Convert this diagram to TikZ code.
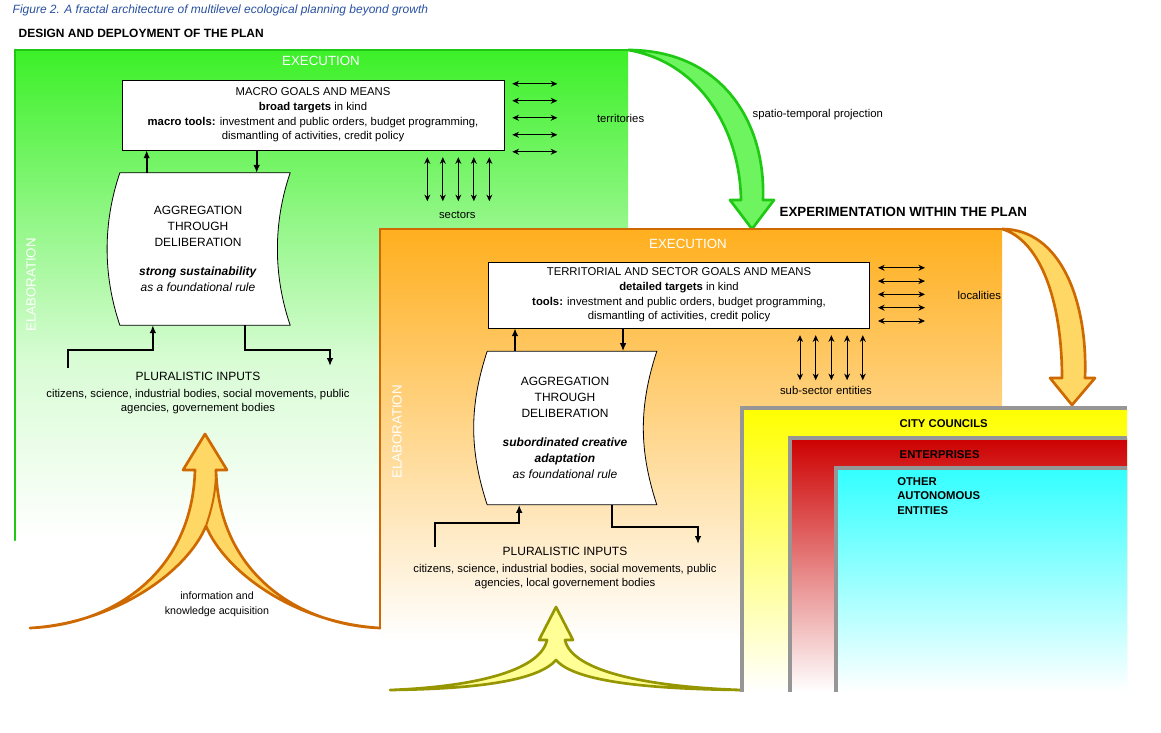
\documentclass[tikz,border=0pt]{standalone}
\usepackage{fontspec}
\setmainfont{Liberation Sans}
\usetikzlibrary{calc, arrows.meta, positioning}

\definecolor{capblue}{RGB}{40,80,160}
\definecolor{lawn}{RGB}{60,240,40}
\definecolor{lawnline}{RGB}{30,200,20}
\definecolor{amber}{RGB}{255,175,30}
\definecolor{rust}{RGB}{205,105,0}
\definecolor{sand}{RGB}{255,215,100}
\definecolor{olive}{RGB}{150,150,0}
\definecolor{lemon}{RGB}{255,255,150}
\definecolor{wine}{RGB}{205,0,0}
\definecolor{aqua}{RGB}{50,255,255}
\definecolor{frame}{RGB}{150,150,150}

\begin{document}
\begin{tikzpicture}[x=0.0264cm, y=-0.0264cm, font=\fontsize{8.5}{11}\selectfont]
    \tikzset{panel/.style={line width=2.2pt, line cap=round}}
    \tikzset{goals/.style={draw, fill=white, align=center, inner sep=2pt}}
    \tikzset{doc/.style={draw, fill=white, line width=0.6pt}}
    \tikzset{flow/.style={-{Latex[length=6pt, width=5pt]}, line width=1.3pt}}
    \tikzset{both/.style={{Stealth[length=5pt, width=4.5pt]}-{Stealth[length=5pt, width=4.5pt]}, line width=0.6pt}}
    \tikzset{big/.style={line width=2pt, line join=round}}
    \tikzset{tier/.style={line width=2.4pt, draw=frame}}
    \useasboundingbox (0,0) rectangle (1161,732);
    % titles
    \node[anchor=west, text=capblue, font=\fontsize{9}{11}\selectfont\itshape] (caption) at (8,10)
        {Figure 2. A fractal architecture of multilevel ecological planning beyond growth};
    \node[anchor=west, font=\fontsize{9}{11}\selectfont\bfseries] (design) at (14,33)
        {DESIGN AND DEPLOYMENT OF THE PLAN};
    % green level
    \shade[top color=lawn, bottom color=lawn!20] (15,50) rectangle (628,360);
    \shade[top color=lawn!20, bottom color=white] (15,360) rectangle (628,540);
    \draw[panel, lawnline] (15,540) -- (15,50) -- (628,50);
    \fill[lawn!75, draw=lawnline, big] (628,50) .. controls (720,50) and (766,120) .. (763,200)
        -- (774,200) -- (752,229) -- (730,200) -- (741,200) .. controls (740,130) and (700,62) .. (628,50);
    \node[white, font=\fontsize{10}{12}\selectfont] (exec1) at (321,61) {EXECUTION};
    \node[white, rotate=90, font=\fontsize{10}{12}\selectfont] (elab1) at (31,285) {ELABORATION};
    \node[anchor=west] (proj) at (748,115) {spatio-temporal projection};
    % orange level
    \shade[top color=amber, bottom color=white] (380,229) rectangle (1002,640);
    \fill[white] (380,640) rectangle (1002,695);
    \draw[panel, rust] (380,628) -- (380,229) -- (1002,229);
    \fill[sand, draw=rust, big] (1002,229) .. controls (1060,229) and (1088,300) .. (1085,378)
        -- (1095,378) -- (1072,405) -- (1050,378) -- (1062,378) .. controls (1062,300) and (1040,240) .. (1002,229);
    \node[anchor=west, font=\fontsize{10}{12}\selectfont\bfseries] (exper) at (775,212)
        {EXPERIMENTATION WITHIN THE PLAN};
    \node[white, font=\fontsize{10}{12}\selectfont] (exec2) at (688,244) {EXECUTION};
    \node[white, rotate=90, font=\fontsize{10}{12}\selectfont] (elab2) at (397,432) {ELABORATION};
    % upward arrows
    \fill[sand, draw=rust, big] (30,628) .. controls (110,625) and (192,575) .. (195,470)
        -- (183,470) -- (205,434) -- (227,470) -- (216,470)
        .. controls (219,575) and (300,625) .. (380,628)
        .. controls (295,623) and (225,572) .. (206,526)
        .. controls (187,572) and (115,623) .. (30,628) -- cycle;
    \draw[rust, line width=1.5pt] (206,526) .. controls (213,505) and (216,490) .. (216,470);
    \node[align=center, font=\fontsize{8}{11}\selectfont] (info) at (217,604) {information and\\knowledge acquisition};
    \fill[lemon, draw=olive, big] (390,690) .. controls (470,687) and (540,672) .. (547,640)
        -- (539,640) -- (556,607) -- (573,640) -- (565,640)
        .. controls (572,672) and (650,687) .. (742,690)
        .. controls (650,689) and (575,682) .. (556,660)
        .. controls (537,682) and (470,689) .. (390,690) -- cycle;
    % tiers
    \shade[top color=yellow, bottom color=white] (742,408) rectangle (1127,692);
    \draw[tier] (742,692) -- (742,408) -- (1127,408);
    \shade[top color=wine, bottom color=white] (790,438) rectangle (1127,692);
    \draw[tier] (790,692) -- (790,438) -- (1127,438);
    \shade[top color=aqua, bottom color=white] (836,468) rectangle (1127,692);
    \draw[tier] (836,692) -- (836,468) -- (1127,468);
    \node[anchor=west, font=\fontsize{8.5}{11}\selectfont\bfseries] (city) at (895,424) {CITY COUNCILS};
    \node[anchor=west, font=\fontsize{8.5}{11}\selectfont\bfseries] (firms) at (895,455) {ENTERPRISES};
    \node[anchor=north west, align=left, font=\fontsize{8.5}{11}\selectfont\bfseries, inner sep=0pt] (other) at (897,477)
        {OTHER\\AUTONOMOUS\\ENTITIES};
    % macro level contents
    \node[goals, minimum width=287pt, minimum height=52.5pt] (macro) at (313,115)
        {MACRO GOALS AND MEANS\\\textbf{broad targets} in kind\\
         \textbf{macro tools:} investment and public orders, budget programming,\\
         dismantling of activities, credit policy};
    \foreach \i in {0,...,4} {
        \draw[both] ($(macro.north east)+(8,4+17*\i)$) -- ++(45,0);
        \draw[both] ($(macro.south east)+(-77+15.5*\i,7)$) -- ++(0,44);
    }
    \node[anchor=west] (terr) at ($(macro.east)+(88,3)$) {territories};
    \node (sect) at ($(macro.south east)+(-47,65)$) {sectors};
    \node[minimum width=127.5pt, minimum height=114pt, align=center] (aggr) at (205,249) {};
    \draw[doc] (aggr.north west) .. controls +(-17,50) and +(-17,-50) .. (aggr.south west)
        -- (aggr.south east) .. controls +(-17,-50) and +(-17,50) .. (aggr.north east) -- cycle;
    \node[align=center, font=\fontsize{9}{12}\selectfont] at ($(aggr.center)+(-7,0)$)
        {AGGREGATION\\THROUGH\\DELIBERATION\\[10pt]\textbf{\textit{strong sustainability}}\\\textit{as a foundational rule}};
    \coordinate (up1) at ($(macro.south west)+(25,0)$);
    \coordinate (dn1) at ($(macro.south west)+(135,0)$);
    \draw[flow] (up1 |- aggr.north) -- (up1);
    \draw[flow] (dn1) -- (dn1 |- aggr.north);
    \node[align=center] (plural) at (198,393)
        {\fontsize{9}{11}\selectfont PLURALISTIC INPUTS\\[2pt]citizens, science, industrial bodies, social movements, public\\agencies, governement bodies};
    \coordinate (in1) at (68,368);
    \coordinate (out1) at (330,366);
    \draw[flow] (in1) |- ($(aggr.south west)+(33,25)$) -- ($(aggr.south west)+(33,0)$);
    \draw[flow] ($(aggr.south west)+(125,0)$) -- ($(aggr.south west)+(125,25)$) -| (out1);
    % territorial level contents
    \node[goals, minimum width=286.5pt, minimum height=49.5pt] (terri) at (679,295)
        {TERRITORIAL AND SECTOR GOALS AND MEANS\\\textbf{detailed targets} in kind\\
         \textbf{tools:} investment and public orders, budget programming,\\
         dismantling of activities, credit policy};
    \foreach \i in {0,...,4} {
        \draw[both] ($(terri.north east)+(8,6+13.3*\i)$) -- ++(47,0);
        \draw[both] ($(terri.south east)+(-70+15.7*\i,7)$) -- ++(0,45);
    }
    \node[anchor=west] (local) at ($(terri.east)+(83,0)$) {localities};
    \node (subsec) at ($(terri.south east)+(-44,62)$) {sub-sector entities};
    \node[minimum width=127pt, minimum height=115pt] (aggr2) at (572,428) {};
    \draw[doc] (aggr2.north west) .. controls +(-18,55) and +(-18,-55) .. (aggr2.south west)
        -- (aggr2.south east) .. controls +(-18,-55) and +(-18,55) .. (aggr2.north east) -- cycle;
    \node[align=center, font=\fontsize{9}{12}\selectfont] at ($(aggr2.center)+(-7,0)$)
        {AGGREGATION\\THROUGH\\DELIBERATION\\[10pt]\textbf{\textit{subordinated creative}}\\\textbf{\textit{adaptation}}\\\textit{as foundational rule}};
    \coordinate (up2) at ($(terri.south west)+(27,0)$);
    \coordinate (dn2) at ($(terri.south west)+(135,0)$);
    \draw[flow] (up2 |- aggr2.north) -- (up2);
    \draw[flow] (dn2) -- (dn2 |- aggr2.north);
    \node[align=center] (plural2) at (565,568)
        {\fontsize{9}{11}\selectfont PLURALISTIC INPUTS\\[2pt]citizens, science, industrial bodies, social movements, public\\agencies, local governement bodies};
    \coordinate (in2) at (435,547);
    \coordinate (out2) at (698,544);
    \draw[flow] (in2) |- ($(aggr2.south west)+(32,18)$) -- ($(aggr2.south west)+(32,0)$);
    \draw[flow] ($(aggr2.south west)+(125,0)$) -- ($(aggr2.south west)+(125,22)$) -| (out2);
\end{tikzpicture}
\end{document}
